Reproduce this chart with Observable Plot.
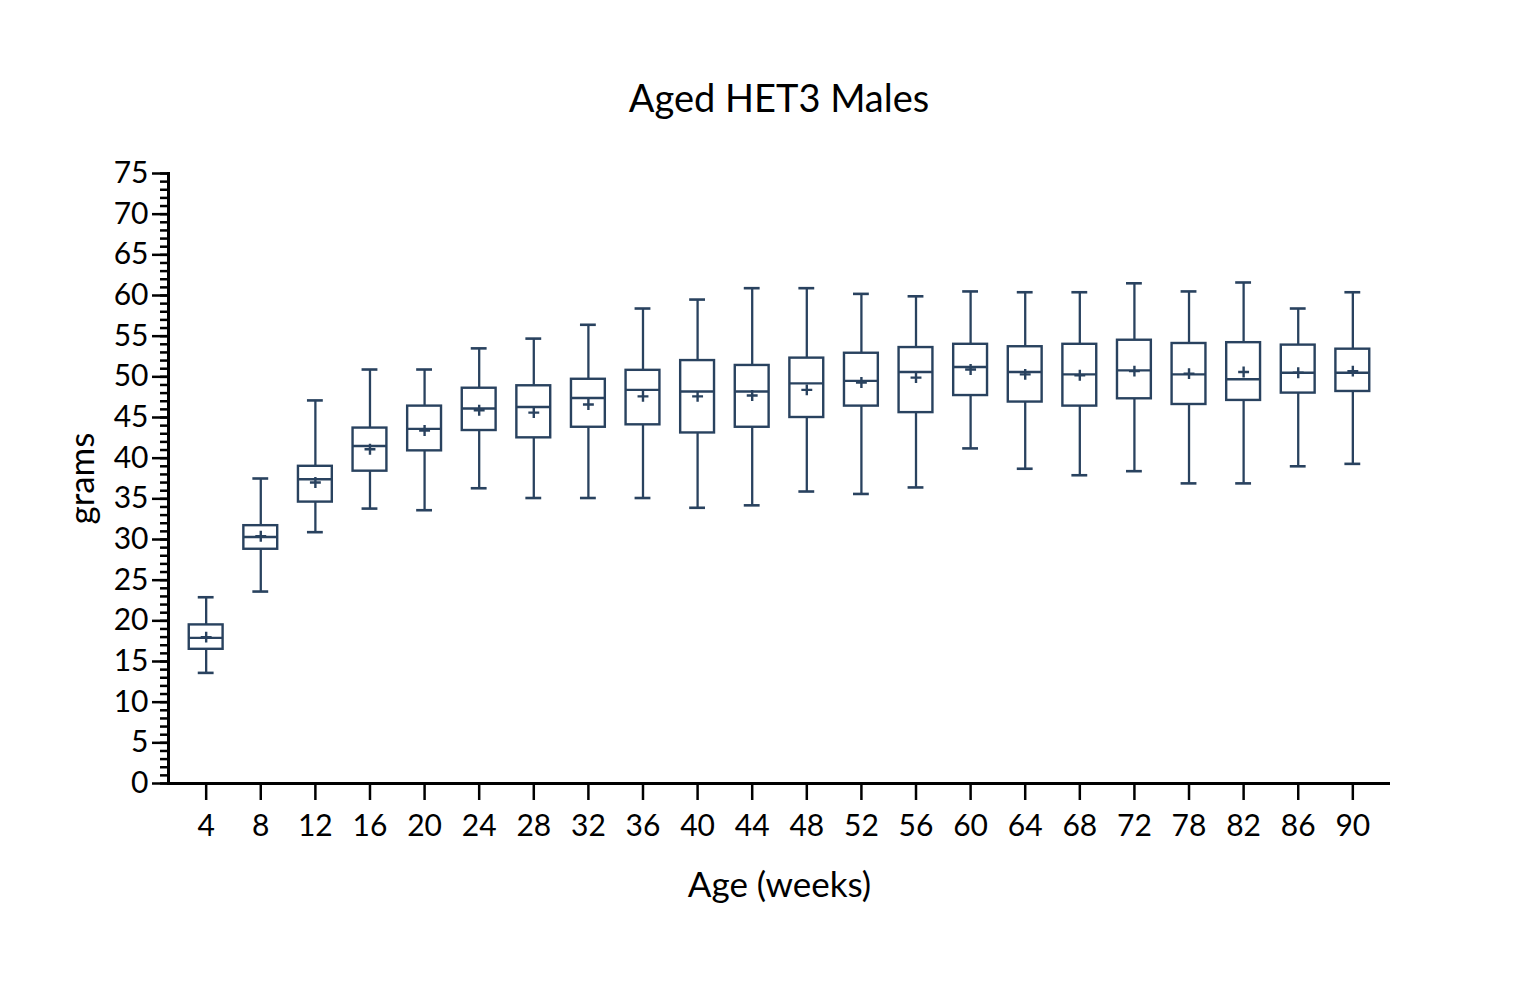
<!DOCTYPE html>
<html>
<head>
<meta charset="utf-8">
<script src="https://cdn.jsdelivr.net/npm/d3@7"></script>
<script src="https://cdn.jsdelivr.net/npm/@observablehq/plot@0.6"></script>
<style>
  html, body { margin: 0; padding: 0; background: #fff; }
  #title { box-sizing: border-box; width: 1533px; height: 140px; padding-left: 168px; padding-right: 143px; padding-top: 74px;
           font-family: Lato, "Noto Sans", sans-serif; font-size: 38px; color: #000; text-align: center; line-height: 46px; }
  svg { display: block; font-family: Lato, "Noto Sans", sans-serif; }
</style>
</head>
<body>
<div id="title">Aged HET3 Males</div>
<div id="chart"></div>
<script>
const ages = ["4","8","12","16","20","24","28","32","36","40","44","48","52","56","60","64","68","72","78","82","86","90"];
const minV = [13.6,23.6,30.9,33.8,33.6,36.3,35.1,35.1,35.1,33.9,34.2,35.9,35.6,36.4,41.2,38.7,37.9,38.4,36.9,36.9,39.0,39.3];
const q1V  = [16.5,28.8,34.6,38.4,40.9,43.4,42.5,43.8,44.1,43.1,43.8,45.0,46.4,45.6,47.7,46.9,46.4,47.3,46.6,47.1,48.0,48.2];
const medV = [17.9,30.3,37.4,41.5,43.6,46.1,46.3,47.4,48.4,48.2,48.2,49.2,49.5,50.6,51.2,50.6,50.3,50.8,50.3,49.7,50.5,50.5];
const q3V  = [19.5,31.7,39.0,43.7,46.4,48.6,48.9,49.7,50.8,52.0,51.4,52.3,52.9,53.6,54.0,53.7,54.0,54.5,54.1,54.2,53.9,53.4];
const maxV = [22.9,37.5,47.1,50.9,50.9,53.5,54.7,56.4,58.4,59.5,60.9,60.9,60.2,59.9,60.5,60.4,60.4,61.5,60.5,61.6,58.4,60.4];
const meanV= [18.0,30.4,37.0,41.1,43.4,45.9,45.6,46.6,47.6,47.6,47.7,48.4,49.3,49.9,50.9,50.3,50.2,50.7,50.4,50.6,50.5,50.7];
const majorTicks = d3.range(0, 76, 5);
const minorTicks = d3.range(0, 76, 1);

const data = ages.map((a, i) => ({age: a, min: minV[i], q1: q1V[i], med: medV[i], q3: q3V[i], max: maxV[i], mean: meanV[i]}));
const col = "#29425f";

const chart = Plot.plot({
  width: 1533,
  height: 843,
  marginLeft: 168,
  marginRight: 143,
  marginTop: 33,
  marginBottom: 200,
  style: {fontFamily: "Lato, 'Noto Sans', sans-serif", fontSize: "30px", color: "#000", background: "#fff"},
  x: {type: "band", domain: ages, padding: 0.38, round: false, label: null},
  y: {domain: [0, 75], label: null},
  marks: [
    Plot.axisY(minorTicks, {tickSize: 8, tickFormat: () => "", stroke: "#000", strokeWidth: 2.5}),
    Plot.axisY(majorTicks, {tickSize: 16, tickPadding: 4, stroke: "#000", strokeWidth: 2.5, fontSize: 30, fill: "#000"}),
    Plot.axisX({tickSize: 17, tickPadding: 14, stroke: "#000", strokeWidth: 2.5, fontSize: 30, fill: "#000", label: null}),
    Plot.ruleX(data, {x: "age", y1: "min", y2: "q1", stroke: col, strokeWidth: 2.3}),
    Plot.ruleX(data, {x: "age", y1: "q3", y2: "max", stroke: col, strokeWidth: 2.3}),
    Plot.tickY(data, {x: "age", y: "min", stroke: col, strokeWidth: 2.6, insetLeft: 9, insetRight: 9}),
    Plot.tickY(data, {x: "age", y: "max", stroke: col, strokeWidth: 2.6, insetLeft: 9, insetRight: 9}),
    Plot.barY(data, {x: "age", y1: "q1", y2: "q3", fill: "#fff", stroke: col, strokeWidth: 2.4}),
    Plot.tickY(data, {x: "age", y: "med", stroke: col, strokeWidth: 2.4}),
    Plot.dot(data, {x: "age", y: "mean", symbol: "plus", r: 3.6, stroke: col, strokeWidth: 2.4}),
    Plot.ruleY([0], {stroke: "#000", strokeWidth: 3}),
    Plot.frame({anchor: "left", stroke: "#000", strokeWidth: 3}),
    Plot.text(["grams"], {frameAnchor: "left", dx: -86, rotate: -90, fontSize: 35, fill: "#000", textAnchor: "middle"}),
    Plot.text(["Age (weeks)"], {frameAnchor: "bottom", dy: 113, fontSize: 35, fill: "#000", textAnchor: "middle"})
  ]
});
document.getElementById("chart").appendChild(chart);
</script>
</body>
</html>
